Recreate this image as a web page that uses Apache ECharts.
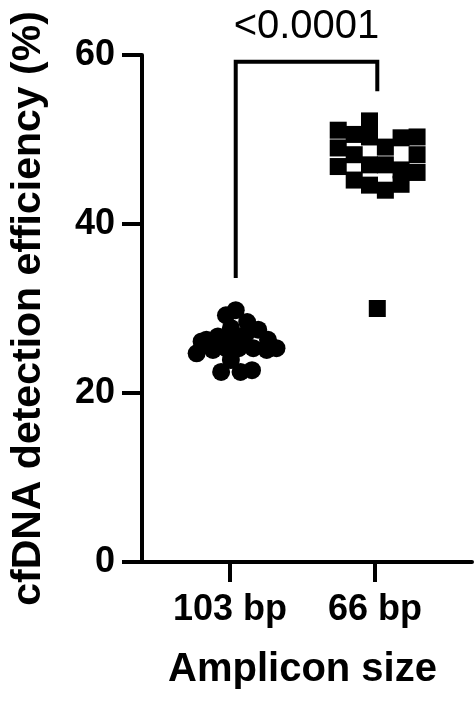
<!DOCTYPE html>
<html>
<head>
<meta charset="utf-8">
<script src="https://cdn.jsdelivr.net/npm/echarts@6/dist/echarts.min.js"></script>
<style>
html,body{margin:0;padding:0;background:#fff;}
#chart{width:474px;height:702px;}
</style>
</head>
<body>
<div id="chart"></div>
<script>
// ---- data ----
var categories = ['103 bp', '66 bp'];
var yTicks = [0, 20, 40, 60];
// 103 bp group (circles): horizontal swarm offset (category units) and value (%)
var bp103Offset = [0, -0.069, 0.081, 0.159, -0.034, -0.207, -0.126, -0.014, 0.069, 0.228, -0.276,
                   -0.161, -0.069, 0.021, 0.124, 0.219, 0.288, -0.034, -0.103, 0.034, 0.115, -0.241];
var bp103Values = [29.8, 29.2, 28.4, 27.5, 27.7, 26.3, 26.7, 26.6, 26.9, 26.3, 24.7,
                   25.1, 25.3, 25.3, 25.3, 25.1, 25.3, 23.9, 22.5, 22.5, 22.7, 26.1];
// 66 bp group (squares)
var bp66Offset = [-0.276, -0.276, -0.276, -0.163, -0.163, -0.163, -0.055, -0.055, -0.055, -0.055,
                  0.057, 0.057, 0.057, 0.168, 0.168, 0.168, 0.281, 0.281, 0.281, 0];
var bp66Values = [51.1, 49.0, 46.8, 50.6, 48.2, 45.2, 52.2, 50.3, 47.0, 44.6,
                  49.1, 47.0, 44.0, 50.2, 46.4, 44.7, 50.3, 48.2, 46.1, 30.0];
// significance bracket
var pLabel = '<0.0001';
var bracketTop = 59.2, bracketLeftEnd = 33.6, bracketRightEnd = 55.7;

// ---- build ----
function pts(center, offs, vals) {
  return vals.map(function (v, i) { return [center + offs[i], v]; });
}
var FONT = '"Liberation Sans", Arial, Helvetica, sans-serif';
var chart = echarts.init(document.getElementById('chart'), null, {renderer: 'canvas'});
chart.setOption({
  animation: false,
  backgroundColor: '#fff',
  grid: [
    {left: 134, right: 2, top: 55, bottom: 140},
    {left: 157.5, width: 290, top: 55, bottom: 140}
  ],
  xAxis: [
    {type: 'value', gridIndex: 0, min: 0.338, max: 2.669,
     axisLine: {show: true, onZero: false, lineStyle: {color: '#000', width: 4}},
     axisTick: {show: false}, axisLabel: {show: false}, splitLine: {show: false}},
    {type: 'category', gridIndex: 1, data: categories, boundaryGap: true,
     axisLine: {show: false},
     axisTick: {show: true, alignWithLabel: true, interval: 0, length: 20, lineStyle: {color: '#000', width: 4}},
     axisLabel: {show: true, interval: 0, hideOverlap: false, margin: 30, color: '#000', fontSize: 36, fontWeight: 'bold', fontFamily: FONT},
     name: 'Amplicon size', nameLocation: 'middle', nameGap: 88,
     nameTextStyle: {color: '#000', fontSize: 40, fontWeight: 'bold', fontFamily: FONT},
     splitLine: {show: false}}
  ],
  yAxis: [
    {type: 'value', gridIndex: 0, min: yTicks[0], max: yTicks[yTicks.length - 1], interval: 20,
     axisLine: {show: true, onZero: false, lineStyle: {color: '#000', width: 4}},
     axisTick: {show: true, length: 20, lineStyle: {color: '#000', width: 4}},
     axisLabel: {margin: 27, color: '#000', fontSize: 36, fontWeight: 'bold', fontFamily: FONT},
     splitLine: {show: false},
     name: 'cfDNA detection efficiency (%)', nameLocation: 'middle', nameGap: 93,
     nameTextStyle: {color: '#000', fontSize: 41, fontWeight: 'bold', fontFamily: FONT}},
    {type: 'value', gridIndex: 1, min: 0, max: 60, show: false}
  ],
  series: [
    {type: 'scatter', xAxisIndex: 0, yAxisIndex: 0, symbol: 'circle', symbolSize: 18,
     itemStyle: {color: '#000', opacity: 1, borderWidth: 0}, emphasis: {disabled: true},
     data: pts(1, bp103Offset, bp103Values)},
    {type: 'scatter', xAxisIndex: 0, yAxisIndex: 0, symbol: 'rect', symbolSize: 17,
     itemStyle: {color: '#000', opacity: 1, borderWidth: 0}, emphasis: {disabled: true},
     data: pts(2, bp66Offset, bp66Values)},
    {type: 'line', xAxisIndex: 0, yAxisIndex: 0, symbol: 'none', silent: true,
     lineStyle: {color: '#000', width: 4, cap: 'butt', join: 'miter', opacity: 1},
     data: [[1, bracketLeftEnd], [1, bracketTop], [2, bracketTop], [2, bracketRightEnd]]},
    {type: 'scatter', xAxisIndex: 0, yAxisIndex: 0, symbolSize: 0, silent: true,
     itemStyle: {opacity: 1},
     data: [[1.5, bracketTop]],
     label: {show: true, position: 'top', distance: 15, formatter: pLabel,
             color: '#000', opacity: 1, fontSize: 40, fontFamily: FONT}}
  ]
});
</script>
</body>
</html>
